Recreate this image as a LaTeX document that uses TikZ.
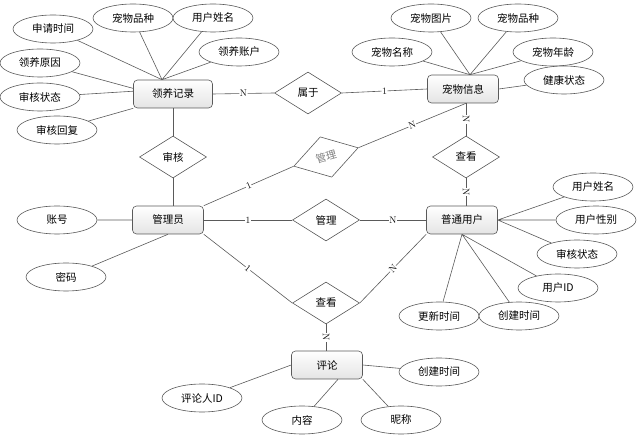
\documentclass[tikz,border=0pt]{standalone}
\usepackage{fontspec}
\newfontfamily\cjk{Noto Sans CJK SC}
\usetikzlibrary{shapes.geometric}
\definecolor{edgegray}{HTML}{5A5A5A}
\definecolor{boxgray}{HTML}{E4E4E4}

\begin{document}
\begin{tikzpicture}[x=1pt,y=-1pt,line width=0.6pt,
  every node/.style={font=\cjk\fontsize{10.5}{12}\selectfont,inner sep=1pt},
  entity/.style={draw=edgegray,rectangle,rounded corners=4pt,minimum width=71pt,minimum height=28pt,top color=white,bottom color=boxgray},
  attr/.style={draw=edgegray,ellipse,fill=white,minimum width=80pt,minimum height=28pt,inner sep=0pt},
  rel/.style={draw=edgegray,diamond,fill=white,minimum width=67pt,minimum height=42pt,inner sep=0pt},
  card/.style={font=\fontsize{9.5}{10}\selectfont,fill=white,inner sep=0.5pt,midway,sloped}]
  \useasboundingbox (0,0) rectangle (640,443);
  % entities and relations
  \path (173,94) node[entity,minimum width=79pt] (adopt) {领养记录} (463,89) node[entity] (pet) {宠物信息}
  (168,220) node[entity] (admin) {管理员} (462,220) node[entity] (user) {普通用户} (327,365) node[entity] (cmt) {评论}
  (308,93) node[rel] (belong) {属于} (173,157) node[rel] (review) {审核} (466,157) node[rel] (viewpet) {查看}
  (326,157) node[rel,rotate=16,text=gray] (managepet) {管理} (326,220) node[rel] (manageuser) {管理}
  (326,303) node[rel] (viewcmt) {查看};
  \coordinate (adopttop) at ([xshift=-11pt]adopt.north);
  \coordinate (pettop) at ([xshift=7pt]pet.north);
  % attributes
  \path (53,29) node[attr] (applytime) {申请时间} (133,18) node[attr] (breed) {宠物品种}
  (213,18) node[attr] (uname) {用户姓名} (239,52) node[attr] (account) {领养账户}
  (40,63) node[attr] (reason) {领养原因} (40,97) node[attr] (status) {审核状态} (57,130) node[attr] (reply) {审核回复}
  (431,18) node[attr] (petpic) {宠物图片} (518,18) node[attr] (petbreed) {宠物品种}
  (392,52) node[attr] (petname) {宠物名称} (553,52) node[attr] (petage) {宠物年龄} (564,80) node[attr] (health) {健康状态}
  (57,220) node[attr] (acct) {账号} (66,277) node[attr] (pwd) {密码}
  (593,187) node[attr] (username) {用户姓名} (596,220) node[attr] (usex) {用户性别} (577,254) node[attr] (ustatus) {审核状态}
  (558,288) node[attr] (uid) {用户ID} (439,316) node[attr] (uupd) {更新时间} (519,316) node[attr] (ucreate) {创建时间}
  (439,372) node[attr] (ctime) {创建时间} (401,420) node[attr] (nick) {昵称} (302,420) node[attr] (content) {内容}
  (202,398) node[attr] (cuser) {评论人ID};
  \begin{scope}[draw=edgegray]
  \draw (applytime) -- (adopttop) (breed) -- (adopttop) (uname) -- (adopttop) (account) -- (adopttop);
  \draw (reason) -- (adopt.172) (status) -- (adopt.176) (reply) -- (adopt.south west);
  \draw (petpic) -- (pettop) (petbreed) -- (pettop) (petname) -- (pettop) (petage) -- (pettop) (health) -- (pet.east);
  \draw (acct) -- (admin.west) (pwd) -- (admin.south);
  \draw (username) -- (user.east) (usex) -- (user.east) (ustatus) -- (user.east);
  \draw (uid) -- (user.south) (uupd) -- (user.south) (ucreate) -- (user.south);
  \draw (ctime) -- (cmt.east) (nick) -- (cmt.south east) (content) -- ([xshift=11pt]cmt.south) (cuser) -- (cmt.west);
  % relations
  \draw (adopt.east) -- node[card] {N} (belong.west);
  \draw (belong.east) -- node[card] {1} (pet.west);
  \draw (adopt.south) -- (review.north) (review.south) -- (review.south |- admin.north);
  \draw (viewpet.north |- pet.south) -- node[card] {N} (viewpet.north);
  \draw (viewpet.south) -- node[card] {N} (viewpet.south |- user.north);
  \draw (admin.north east) -- node[card] {1} (managepet.west);
  \draw (managepet.east) -- node[card] {N} ([xshift=3pt]pet.south);
  \draw (admin.east) -- node[card] {1} (manageuser.west);
  \draw (manageuser.east) -- node[card] {N} (user.west);
  \draw (admin.south east) -- node[card] {1} (viewcmt.west);
  \draw (viewcmt.east) -- node[card] {N} (user.south west);
  \draw (viewcmt.south) -- node[card] {N} (viewcmt.south |- cmt.north);
  \end{scope}
\end{tikzpicture}
\end{document}
